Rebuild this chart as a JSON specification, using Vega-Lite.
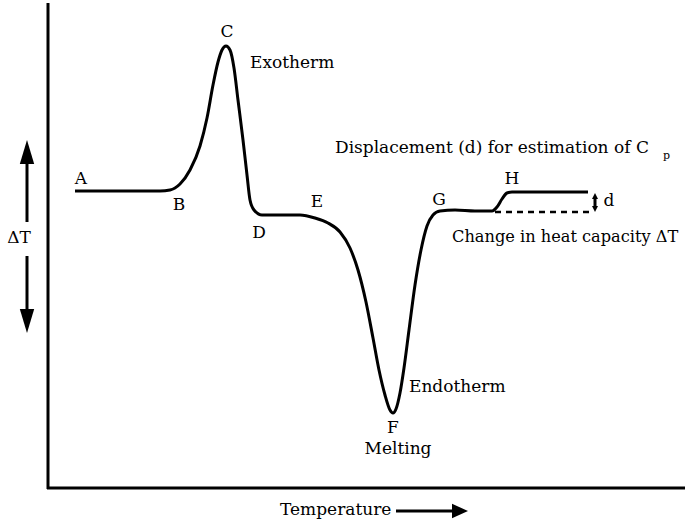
{
  "$schema": "https://vega.github.io/schema/vega-lite/v6.json",
  "width": 685,
  "height": 528,
  "autosize": {"type": "none"},
  "padding": 0,
  "background": "white",
  "config": {"view": {"stroke": null}},
  "datasets": {
    "curve": [
      {"t": 75, "dT": 191}, {"t": 120, "dT": 191}, {"t": 160, "dT": 191}, {"t": 170, "dT": 190},
      {"t": 180, "dT": 184}, {"t": 190, "dT": 170}, {"t": 200, "dT": 146}, {"t": 207, "dT": 118},
      {"t": 213, "dT": 85}, {"t": 218, "dT": 62}, {"t": 222, "dT": 50}, {"t": 226, "dT": 46},
      {"t": 230, "dT": 50}, {"t": 234, "dT": 68}, {"t": 238, "dT": 100}, {"t": 243, "dT": 140},
      {"t": 247, "dT": 175}, {"t": 250, "dT": 200}, {"t": 254, "dT": 210}, {"t": 262, "dT": 215},
      {"t": 280, "dT": 215}, {"t": 300, "dT": 215}, {"t": 315, "dT": 218}, {"t": 328, "dT": 223},
      {"t": 340, "dT": 232}, {"t": 350, "dT": 248}, {"t": 358, "dT": 270}, {"t": 366, "dT": 302},
      {"t": 373, "dT": 338}, {"t": 379, "dT": 370}, {"t": 385, "dT": 395}, {"t": 390, "dT": 410},
      {"t": 393, "dT": 413}, {"t": 396, "dT": 409}, {"t": 400, "dT": 393}, {"t": 404, "dT": 368},
      {"t": 409, "dT": 330}, {"t": 415, "dT": 285}, {"t": 421, "dT": 250}, {"t": 427, "dT": 226},
      {"t": 433, "dT": 215}, {"t": 440, "dT": 211}, {"t": 455, "dT": 210}, {"t": 475, "dT": 211},
      {"t": 492, "dT": 211}, {"t": 497, "dT": 207}, {"t": 502, "dT": 199}, {"t": 507, "dT": 193},
      {"t": 512, "dT": 192}, {"t": 550, "dT": 192}, {"t": 588, "dT": 192}
    ],
    "dashed": [{"t": 495, "dT": 212}, {"t": 590, "dT": 212}],
    "frame": [
      {"x1": 48, "y1": 3, "x2": 48, "y2": 489},
      {"x1": 47, "y1": 488, "x2": 685, "y2": 488}
    ],
    "shafts": [
      {"x1": 27, "y1": 158, "x2": 27, "y2": 222},
      {"x1": 27, "y1": 256, "x2": 27, "y2": 316},
      {"x1": 396, "y1": 511, "x2": 456, "y2": 511},
      {"x1": 595, "y1": 197, "x2": 595, "y2": 208}
    ],
    "heads": [
      {"x": 27, "y": 152, "dir": 0, "kind": "big"},
      {"x": 27, "y": 321, "dir": 180, "kind": "big"},
      {"x": 460, "y": 511, "dir": 90, "kind": "mid"},
      {"x": 595, "y": 196, "dir": 0, "kind": "small"},
      {"x": 595, "y": 209, "dir": 180, "kind": "small"}
    ],
    "labels": [
      {"x": 81, "y": 179, "text": "A", "align": "center"},
      {"x": 179, "y": 205, "text": "B", "align": "center"},
      {"x": 227, "y": 32, "text": "C", "align": "center"},
      {"x": 259, "y": 233, "text": "D", "align": "center"},
      {"x": 317, "y": 202, "text": "E", "align": "center"},
      {"x": 393, "y": 428, "text": "F", "align": "center"},
      {"x": 439, "y": 200, "text": "G", "align": "center"},
      {"x": 512, "y": 179, "text": "H", "align": "center"},
      {"x": 609, "y": 201, "text": "d", "align": "center"},
      {"x": 19, "y": 238, "text": "ΔT", "align": "center"},
      {"x": 250, "y": 63, "text": "Exotherm", "align": "left"},
      {"x": 409, "y": 387, "text": "Endotherm", "align": "left"},
      {"x": 398, "y": 449, "text": "Melting", "align": "center"},
      {"x": 280, "y": 510, "text": "Temperature", "align": "left"},
      {"x": 335, "y": 148, "text": "Displacement (d) for estimation of C", "align": "left"},
      {"x": 452, "y": 237, "text": "Change in heat capacity ΔT", "align": "narrow"}
    ],
    "subs": [{"x": 663, "y": 156, "text": "p"}]
  },
  "layer": [
    {
      "data": {"name": "frame"},
      "mark": {"type": "rule", "strokeWidth": 3, "color": "black"},
      "encoding": {
        "x": {"field": "x1", "type": "quantitative", "scale": {"domain": [0, 685]}, "axis": null},
        "y": {"field": "y1", "type": "quantitative", "scale": {"domain": [528, 0]}, "axis": null},
        "x2": {"field": "x2"},
        "y2": {"field": "y2"}
      }
    },
    {
      "data": {"name": "shafts"},
      "mark": {"type": "rule", "strokeWidth": 3, "color": "black"},
      "encoding": {
        "x": {"field": "x1", "type": "quantitative", "scale": {"domain": [0, 685]}, "axis": null},
        "y": {"field": "y1", "type": "quantitative", "scale": {"domain": [528, 0]}, "axis": null},
        "x2": {"field": "x2"},
        "y2": {"field": "y2"}
      }
    },
    {
      "data": {"name": "heads"},
      "transform": [{"filter": "datum.kind === 'big'"}],
      "mark": {"type": "point", "shape": "M0,-1L0.6,1L-0.6,1Z", "filled": true, "color": "black", "opacity": 1, "size": 576},
      "encoding": {
        "x": {"field": "x", "type": "quantitative", "scale": {"domain": [0, 685]}, "axis": null},
        "y": {"field": "y", "type": "quantitative", "scale": {"domain": [528, 0]}, "axis": null},
        "angle": {"field": "dir", "type": "quantitative", "scale": null}
      }
    },
    {
      "data": {"name": "heads"},
      "transform": [{"filter": "datum.kind === 'mid'"}],
      "mark": {"type": "point", "shape": "M0,-1L0.9,1L-0.9,1Z", "filled": true, "color": "black", "opacity": 1, "size": 256},
      "encoding": {
        "x": {"field": "x", "type": "quantitative", "scale": {"domain": [0, 685]}, "axis": null},
        "y": {"field": "y", "type": "quantitative", "scale": {"domain": [528, 0]}, "axis": null},
        "angle": {"field": "dir", "type": "quantitative", "scale": null}
      }
    },
    {
      "data": {"name": "heads"},
      "transform": [{"filter": "datum.kind === 'small'"}],
      "mark": {"type": "point", "shape": "M0,-1L1,1L-1,1Z", "filled": true, "color": "black", "opacity": 1, "size": 36},
      "encoding": {
        "x": {"field": "x", "type": "quantitative", "scale": {"domain": [0, 685]}, "axis": null},
        "y": {"field": "y", "type": "quantitative", "scale": {"domain": [528, 0]}, "axis": null},
        "angle": {"field": "dir", "type": "quantitative", "scale": null}
      }
    },
    {
      "data": {"name": "dashed"},
      "mark": {"type": "line", "strokeWidth": 2.5, "color": "black", "strokeDash": [6, 5]},
      "encoding": {
        "x": {"field": "t", "type": "quantitative", "scale": {"domain": [0, 685]}, "axis": null},
        "y": {"field": "dT", "type": "quantitative", "scale": {"domain": [528, 0]}, "axis": null}
      }
    },
    {
      "data": {"name": "curve"},
      "mark": {"type": "line", "strokeWidth": 3, "color": "black", "interpolate": "monotone"},
      "encoding": {
        "x": {"field": "t", "type": "quantitative", "scale": {"domain": [0, 685]}, "axis": null},
        "y": {"field": "dT", "type": "quantitative", "scale": {"domain": [528, 0]}, "axis": null}
      }
    },
    {
      "data": {"name": "labels"},
      "transform": [{"filter": "datum.align === 'center'"}],
      "mark": {"type": "text", "font": "DejaVu Serif", "fontSize": 17, "color": "black", "align": "center", "baseline": "middle"},
      "encoding": {
        "x": {"field": "x", "type": "quantitative", "scale": {"domain": [0, 685]}, "axis": null},
        "y": {"field": "y", "type": "quantitative", "scale": {"domain": [528, 0]}, "axis": null},
        "text": {"field": "text"}
      }
    },
    {
      "data": {"name": "labels"},
      "transform": [{"filter": "datum.align === 'left'"}],
      "mark": {"type": "text", "font": "DejaVu Serif", "fontSize": 17, "color": "black", "align": "left", "baseline": "middle"},
      "encoding": {
        "x": {"field": "x", "type": "quantitative", "scale": {"domain": [0, 685]}, "axis": null},
        "y": {"field": "y", "type": "quantitative", "scale": {"domain": [528, 0]}, "axis": null},
        "text": {"field": "text"}
      }
    },
    {
      "data": {"name": "labels"},
      "transform": [{"filter": "datum.align === 'narrow'"}],
      "mark": {"type": "text", "font": "DejaVu Serif", "fontSize": 16.2, "color": "black", "align": "left", "baseline": "middle"},
      "encoding": {
        "x": {"field": "x", "type": "quantitative", "scale": {"domain": [0, 685]}, "axis": null},
        "y": {"field": "y", "type": "quantitative", "scale": {"domain": [528, 0]}, "axis": null},
        "text": {"field": "text"}
      }
    },
    {
      "data": {"name": "subs"},
      "mark": {"type": "text", "font": "DejaVu Serif", "fontSize": 11, "color": "black", "align": "left", "baseline": "middle"},
      "encoding": {
        "x": {"field": "x", "type": "quantitative", "scale": {"domain": [0, 685]}, "axis": null},
        "y": {"field": "y", "type": "quantitative", "scale": {"domain": [528, 0]}, "axis": null},
        "text": {"field": "text"}
      }
    }
  ]
}
